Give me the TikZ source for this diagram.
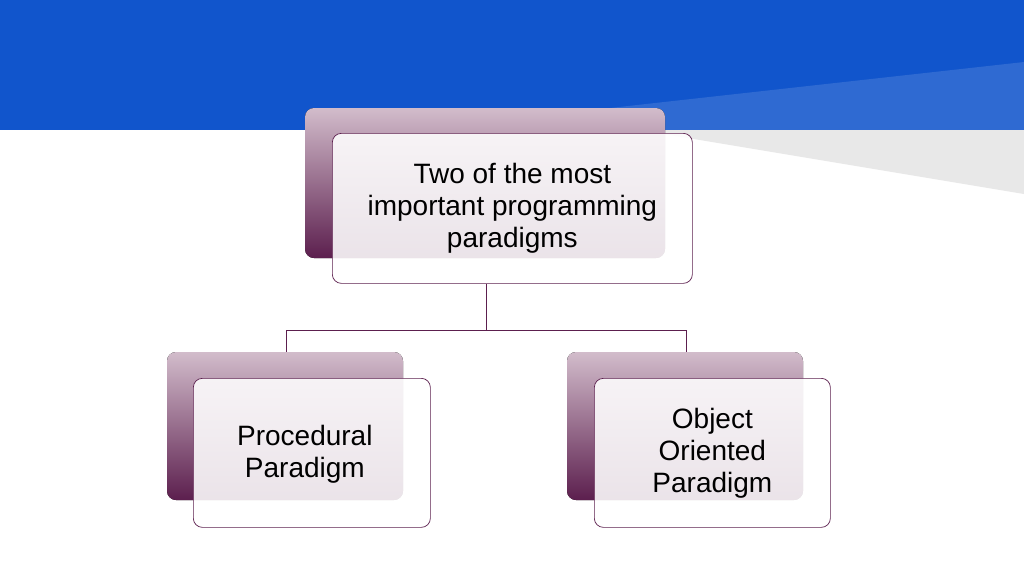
\documentclass[tikz,border=0pt]{standalone}
\usepackage{fontspec}
\setmainfont{Liberation Sans}
\definecolor{bandblue}{HTML}{1155CC}
\definecolor{lightblue}{HTML}{2F6AD2}
\definecolor{wedgegray}{HTML}{E8E8E8}
\definecolor{mauve}{HTML}{D2BCCB}
\definecolor{plum}{HTML}{5C1F4E}
\tikzset{
  backbox/.style={rounded corners=9pt, top color=mauve, bottom color=plum, draw=none},
  frontbox/.style={rounded corners=9pt, draw=plum, fill=white, fill opacity=0.88, text opacity=1, line width=0.7pt},
  lbl/.style={font=\fontsize{28}{32}\selectfont, align=center, text=black},
  conn/.style={draw=plum, line width=0.8pt}
}
\begin{document}
\begin{tikzpicture}[x=1pt,y=-1pt]
\useasboundingbox (0,0) rectangle (1024,576);
\fill[white] (0,0) rectangle (1024,576);
\fill[bandblue] (0,0) rectangle (1024,130);
\fill[lightblue] (610,108) -- (1024,62) -- (1024,130) -- (610,130) -- cycle;
\fill[wedgegray] (640,130) -- (1024,130) -- (1024,194) -- cycle;
% top
\fill[backbox] (305,108) rectangle (665,258);
\node[frontbox, minimum width=360pt, minimum height=150pt, anchor=north west] (top) at (332,133) {};
\node[lbl] (toptext) at (top.center) {Two of the most\\important programming\\paradigms};
% left
\fill[backbox] (167,352) rectangle (403,500);
\node[frontbox, minimum width=237pt, minimum height=149pt, anchor=north west] (left) at (193,378) {};
\node[lbl] (lefttext) at ([xshift=-7pt,yshift=-1pt]left.center) {Procedural\\Paradigm};
% right
\fill[backbox] (567,352) rectangle (803,500);
\node[frontbox, minimum width=236pt, minimum height=149pt, anchor=north west] (right) at (594,378) {};
\node[lbl] (righttext) at ([xshift=0pt,yshift=0pt]right.center) {Object\\Oriented\\Paradigm};
% connectors
\coordinate (j) at (486,330);
\coordinate (lt) at (286,352);
\coordinate (rt) at (686,352);
\draw[conn] (top.south -| j) -- (j) -- (j -| lt) -- (lt);
\draw[conn] (j) -- (j -| rt) -- (rt);
\end{tikzpicture}
\end{document}
